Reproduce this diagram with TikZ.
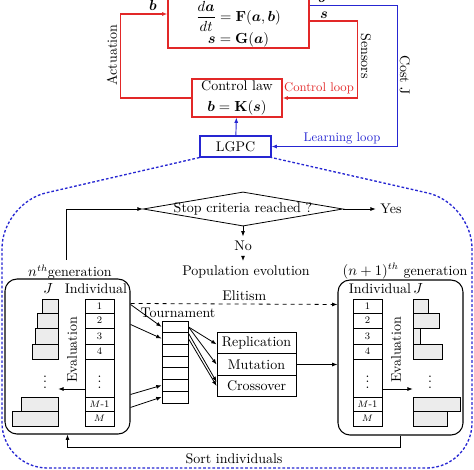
\documentclass[tikz,border=0pt]{standalone}
\usepackage{amsmath,bm}
\usepackage{tikz}
\usetikzlibrary{shapes.geometric, arrows.meta, positioning, calc}
\definecolor{LoopRed}{RGB}{226, 40, 40}
\definecolor{LoopBlue}{RGB}{38, 38, 210}
\newcommand{\basefont}{\fontsize{10.5}{12.6}\selectfont}
\newcommand{\loopfont}{\fontsize{9.5}{11.4}\selectfont}
\tikzset{
  redbox/.style={draw=LoopRed, line width=0.8pt, align=center, inner sep=0pt},
  bluebox/.style={draw=LoopBlue, line width=0.8pt, inner sep=0pt},
  redline/.style={draw=LoopRed, line width=0.8pt, -{Latex[length=4pt,width=3pt]}},
  blueline/.style={draw=LoopBlue, line width=0.7pt, -{Latex[length=4pt,width=3pt]}},
  flow/.style={draw=black, line width=0.6pt, -{Latex[length=4pt,width=3pt]}},
  cell/.style={draw, line width=0.6pt, inner sep=0pt, font=\fontsize{7.5}{9}\selectfont},
  opbox/.style={draw, line width=0.6pt, inner sep=0pt, font=\basefont,
                minimum width=59.25pt, minimum height=16.25pt},
  bar/.style={draw, fill=gray!15, line width=0.6pt, inner sep=0pt},
  genbox/.style={draw, line width=0.8pt, rounded corners=9pt,
                 minimum width=93.75pt, minimum height=116.25pt},
}

\begin{document}
\begin{tikzpicture}[x=0.75pt, y=-0.75pt, font=\basefont]
  \useasboundingbox (0,0) rectangle (474,469);

  % control loop
  \node[redbox, minimum width=105.75pt, minimum height=51pt] (sys) at (238.5,14) {};
  \node (sysF) at (238.5,16) {$\dfrac{d\bm a}{dt}=\mathbf F(\bm a,\bm b)$};
  \node (sysG) at (238.5,40) {$\bm s=\mathbf G(\bm a)$};
  \node[redbox, minimum width=67.5pt, minimum height=28.5pt] (ctrl) at (237,98)
    {Control law\\[3pt] $\bm b=\mathbf K(\bm s)$};
  \node[bluebox, minimum width=53.25pt, minimum height=15.75pt] (lgpc) at (235.5,146.5) {LGPC};

  \draw[redline] (ctrl.west) -- ++(-71,0) |- (sys.west);
  \draw[redline] ([yshift=-5.25pt]sys.east) -- ++(48,0) |- (ctrl.east);
  \draw[blueline] ([yshift=6.75pt]sys.east) -- ++(88,0) |- (lgpc.east);
  \draw[blueline] (lgpc) -- (ctrl);

  \node (bAct) at (153,5) {$\bm b$};
  \node (sSen) at (324,15) {$\bm s$};
  \node (bCost) at (322,-3) {$\bm b$};
  \node[rotate=90] (actLbl) at (112,55) {Actuation};
  \node[rotate=-90] (senLbl) at (366,56) {Sensors};
  \node[rotate=-90] (costLbl) at (405,75) {Cost J};
  \node[text=LoopRed, font=\loopfont] (ctrlLoop) at (319,88) {Control loop};
  \node[text=LoopBlue, font=\loopfont] (learnLoop) at (342,138) {Learning loop};

  % learning loop
  \draw[LoopBlue, line width=1pt, dash pattern=on 2pt off 1.5pt, rounded corners=34pt]
    (lgpc.south west) -- (2,203) -- (2,468) -- (472,468) -- (472,203) -- (lgpc.south east);

  \node[draw, diamond, aspect=5.85, inner xsep=0pt, inner ysep=-0.8pt, line width=0.6pt]
    (stop) at (243,209) {Stop criteria reached ?};
  \node (yes) at (391,209) {Yes};
  \node (no) at (243,246) {No};
  \node (popev) at (246,272) {Population evolution};
  \draw[flow] (stop.east) -- (yes.west);
  \draw[flow] (stop.south) -- (no.north);
  \draw[flow] (no.south) -- (no.south |- popev.north);

  \node (nthgen) at (70,272) {$n^{th}$generation};
  \node (npgen) at (405,271) {$(n+1)^{th}$ generation};
  \draw[flow] ([xshift=-3pt]nthgen.north) |- (stop.west);

  \node[genbox] (genL) at (67.5,356.5) {};
  \node[genbox] (genR) at (400.5,357.5) {};
  \node (jL) at (48,289) {$J$};
  \node (indHL) at (96,289) {Individual};
  \node (indHR) at (380,289) {Individual};
  \node (jR) at (418,289) {$J$};

  \foreach \i/\t/\b/\lab in {1/299/313/1, 2/313/328/2, 3/328/344/3, 4/344/359/4,
      5/359/397/{\basefont$\vdots$}, 6/397/411/{$M$-1}, 7/411/426/{$M$}} {
    \node[cell, minimum width=21.75pt, minimum height={(\b-\t)*0.75pt}]
      (indL\i) at (99.5,{(\t+\b)/2}) {\lab};
    \node[cell, minimum width=21.75pt, minimum height={(\b-\t)*0.75pt}]
      (indR\i) at (367.5,{(\t+\b)/2}) {\lab};
  }
  \foreach \i/\t/\b/\l in {1/299/313/42, 2/313/328/37, 3/328/344/35, 4/344/359/32,
      6/397/411/21, 7/411/426/12}
    \node[bar, minimum width={(58-\l)*0.75pt}, minimum height={(\b-\t)*0.75pt}]
      (barL\i) at ({(58+\l)/2},{(\t+\b)/2}) {};
  \foreach \i/\t/\b/\r in {1/299/313/428, 2/313/328/439, 3/328/344/420, 4/344/359/442,
      6/397/411/460, 7/411/426/447}
    \node[bar, minimum width={(\r-413)*0.75pt}, minimum height={(\b-\t)*0.75pt}]
      (barR\i) at ({(413+\r)/2},{(\t+\b)/2}) {};
  \node[inner sep=0pt, minimum width=19.5pt] (barL5) at (45,378) {$\vdots$};
  \node[inner sep=0pt, minimum width=25.5pt] (barR5) at (430,378) {$\vdots$};

  \node[rotate=90] (evL) at (72,350) {Evaluation};
  \node[rotate=90] (evR) at (396,350) {Evaluation};
  \draw[flow] ([yshift=-8.25pt]indL5.west) -- ([yshift=-8.25pt]barL5.east);
  \draw[flow] ([yshift=-8.25pt]indR5.east) -- ([yshift=-8.25pt]barR5.west);

  % tournament and operators
  \node (tourLbl) at (178,313) {Tournament};
  \foreach \i in {1,...,7}
    \node[cell, minimum width=19.5pt, minimum height=8.8pt] (tour\i) at (175,{321+11.7*(\i-0.5)}) {};
  \node[opbox] (opRep) at (256.5,343) {Replication};
  \node[opbox] (opMut) at (256.5,364.5) {Mutation};
  \node[opbox] (opCro) at (256.5,386) {Crossover};

  \draw[flow] ($(genL.north east)+(0,26)$) -- (tour1.west);
  \draw[flow] ($(genL.north east)+(0,46)$) -- (tour2.west);
  \draw[flow] ($(genL.north east)+(0,116)$) -- (tour6.west);
  \draw[flow] ($(genL.north east)+(0,129)$) -- (tour7.west);
  \draw[flow] (tour1.east) -- ([yshift=-1pt]opRep.west);
  \draw[flow] (tour1.east) -- (opMut.west);
  \draw[flow] (tour1.south east) -- ([yshift=3pt]opCro.west);
  \draw[flow] (tour2.east) -- (opCro.west);
  \draw[flow] (opMut.east) -- (opMut.east -| genR.west);

  \draw[flow, dashed] ($(genL.north east)+(0,25)$) -- ($(genR.north west)+(0,25)$)
    node[pos=0.55, above=-1pt] {Elitism};
  \draw[flow] (genR.south) -- ++(0,12) -| (genL.south)
    node[pos=0.25, below=1pt] {Sort individuals};
\end{tikzpicture}
\end{document}
